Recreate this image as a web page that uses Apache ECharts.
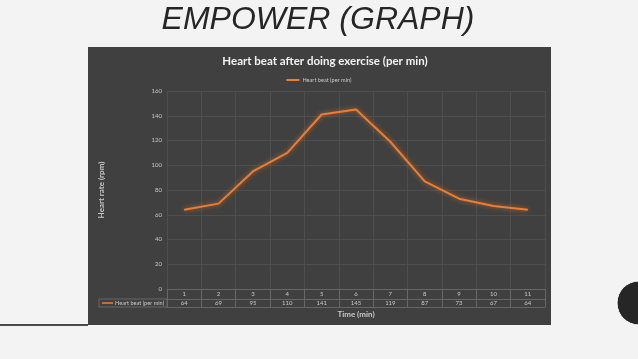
<!DOCTYPE html>
<html><head><meta charset="utf-8">
<script src="https://cdn.jsdelivr.net/npm/echarts@6/dist/echarts.min.js"></script>
<style>html,body{margin:0;padding:0;background:#f3f3f3}#c{width:638px;height:359px}</style>
</head><body><div id="c"></div>
<script>
const slideTitle = 'EMPOWER (GRAPH)';
const chartTitle = 'Heart beat after doing exercise (per min)';
const seriesName = 'Heart beat (per min)';
const categories = ['1','2','3','4','5','6','7','8','9','10','11'];
const heartBeat = [64, 69, 95, 110, 141, 145, 119, 87, 73, 67, 64];
const yTitle = 'Heart rate (rpm)';
const xTitle = 'Time (min)';

const F = 'Lato, "Open Sans", sans-serif';
const gridCol = '#4e4e4e';
const tableCol = '#666666';
const txt = '#c8c8c8';
const orange = '#ed7d31';

const chart = echarts.init(document.getElementById('c'), null, {renderer:'canvas'});
chart.setOption({
  backgroundColor: '#f3f3f3',
  animation: false,
  textStyle: {fontFamily: F},
  graphic: [
    {type:'rect', shape:{x:88,y:47,width:463,height:278}, style:{fill:'#404040'}, z:-10},
    {type:'line', shape:{x1:0,y1:325,x2:88,y2:325}, style:{stroke:'#4a4a4a',lineWidth:2}, z:-10},
    {type:'circle', shape:{cx:639,cy:303,r:22}, style:{fill:'#262626',stroke:'#ffffff',lineWidth:1}, z:-10},
    {type:'text', x:318, y:36, style:{text:slideTitle, font:'italic 32px "Liberation Sans", Arial, sans-serif', fill:'#262626', textAlign:'center', textVerticalAlign:'bottom'}},
    {type:'rect', shape:{x:99,y:299,width:68,height:8}, style:{fill:'none',stroke:tableCol,lineWidth:1}},
    {type:'line', shape:{x1:102,y1:303,x2:113,y2:303}, style:{stroke:orange,lineWidth:1.5}},
    {type:'text', x:115, y:303, style:{text:seriesName, font:'5.6px '+F, fill:txt, textVerticalAlign:'middle'}}
  ],
  title: {
    text: chartTitle, left: 320, textAlign:'center', top: 50,
    textStyle: {color:'#f2f2f2', fontSize:11.5, fontWeight:'bold', fontFamily:F}
  },
  legend: {
    top: 72, left: 'center', itemWidth: 13, itemHeight: 2, itemGap: 4,
    icon: 'rect',
    textStyle: {color: txt, fontSize: 5.6, fontFamily:F, padding:[0,0,0,-2]},
    data: [seriesName]
  },
  grid: {left:167, right:93, top:91, bottom:70, containLabel:false},
  xAxis: [
    {type:'category', data:categories, gridIndex:0, position:'bottom',
     axisLine:{show:true, lineStyle:{color:tableCol, width:1}},
     axisTick:{show:true, interval:0, length:18, lineStyle:{color:tableCol}},
     axisLabel:{color:txt, fontSize:6, margin:2, fontFamily:F},
     splitLine:{show:true, interval:0, lineStyle:{color:gridCol, width:1}}
    },
    {type:'category', data:heartBeat.map(String), gridIndex:0, position:'bottom', offset:10,
     axisLine:{show:true, lineStyle:{color:tableCol, width:1}},
     axisTick:{show:false},
     axisLabel:{color:txt, fontSize:6, margin:1, fontFamily:F},
     splitLine:{show:false}
    },
    {type:'category', data:categories, gridIndex:0, position:'bottom', offset:18,
     axisLine:{show:true, lineStyle:{color:tableCol, width:1}},
     axisTick:{show:false}, axisLabel:{show:false}, splitLine:{show:false},
     name:xTitle, nameLocation:'middle', nameGap:3,
     nameTextStyle:{color:txt, fontSize:8, fontWeight:'bold', fontFamily:F, verticalAlign:'top'}
    }
  ],
  yAxis: {
    type:'value', min:0, max:160, interval:20,
    axisLine:{show:false}, axisTick:{show:false},
    axisLabel:{color:txt, fontSize:6, margin:5, fontFamily:F},
    splitLine:{lineStyle:{color:gridCol, width:1}},
    name:yTitle, nameLocation:'middle', nameRotate:90, nameGap:62,
    nameTextStyle:{color:txt, fontSize:8, fontWeight:'bold', fontFamily:F}
  },
  series: [{
    type:'line', name:seriesName, data:heartBeat, xAxisIndex:0,
    symbol:'none', smooth:false,
    lineStyle:{color:orange, width:2, shadowColor:'rgba(237,125,49,0.7)', shadowBlur:5},
    itemStyle:{color:orange}
  }]
});
</script>
</body></html>
